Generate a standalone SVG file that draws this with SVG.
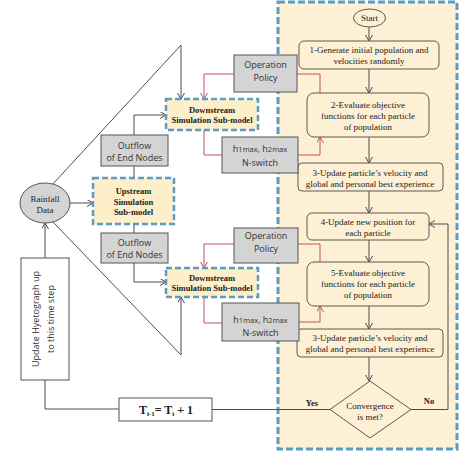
<svg xmlns="http://www.w3.org/2000/svg" width="474" height="454" viewBox="0 0 474 454">
<defs>
<marker id="ar" markerWidth="8" markerHeight="8" refX="6" refY="3.5" orient="auto" markerUnits="userSpaceOnUse">
<path d="M0,0 L6,3.5 L0,7" fill="none" stroke="#4d4d4d" stroke-width="1"/>
</marker>
<marker id="arr" markerWidth="8" markerHeight="8" refX="6" refY="3.5" orient="auto" markerUnits="userSpaceOnUse">
<path d="M0,0 L6,3.5 L0,7" fill="none" stroke="#c0505a" stroke-width="1"/>
</marker>
<style>
.fl{fill:#fdf0d4;stroke:#5a5a5a;stroke-width:1}
.gb{fill:#d4d4d4;stroke:#555;stroke-width:1}
.wb{fill:#fff;stroke:#555;stroke-width:1}
.sm{fill:#fcefc9;stroke:#5a9cc4;stroke-width:2.5;stroke-dasharray:6,3}
.ln{fill:none;stroke:#4d4d4d;stroke-width:1}
.rd{fill:none;stroke:#c0505a;stroke-width:1}
.t{font-family:"Liberation Serif","Times New Roman",serif;font-size:9px;fill:#222;text-anchor:middle}
.tb{font-family:"Liberation Serif","Times New Roman",serif;font-size:8.5px;font-weight:bold;fill:#222;text-anchor:middle}
.s{font-family:"Open Sans","Liberation Sans",sans-serif;font-size:9px;fill:#333;text-anchor:middle}
</style>
</defs>
<rect x="0" y="0" width="474" height="454" fill="#fff"/>
<rect id="frame" x="278" y="2" width="179" height="447" fill="#fdf0d4" stroke="#5a9cc4" stroke-width="3" stroke-dasharray="7,3"/>

<g id="connectors">
<path class="ln" d="M52,185 L181,45 L181,99" marker-end="url(#ar)"/>
<path class="ln" d="M52,221 L181,355 L181,297" marker-end="url(#ar)"/>
<path class="ln" d="M70,203 L93,203" marker-end="url(#ar)"/>
<path class="ln" d="M134,178 L134,166"/>
<path class="ln" d="M134,135 L134,115 L166,115" marker-end="url(#ar)"/>
<path class="ln" d="M134,224 L134,233"/>
<path class="ln" d="M134,263 L134,282 L166,282" marker-end="url(#ar)"/>
<path class="ln" d="M45,258 L45,223" marker-end="url(#ar)"/>
<path class="ln" d="M119,409 L45,409 L45,380"/>
<path class="ln" d="M330,409.5 L212,409.5"/>
<path class="ln" d="M411,409.5 L448,409.5 L448,224 L429,224" marker-end="url(#ar)"/>
<path class="ln" d="M369,27 L369,41" marker-end="url(#ar)"/>
<path class="ln" d="M369,69 L369,93" marker-end="url(#ar)"/>
<path class="ln" d="M369,137 L369,163" marker-end="url(#ar)"/>
<path class="ln" d="M369,191 L369,213" marker-end="url(#ar)"/>
<path class="ln" d="M369,240 L369,262" marker-end="url(#ar)"/>
<path class="ln" d="M369,306 L369,329" marker-end="url(#ar)"/>
<path class="ln" d="M369,357 L369,381" marker-end="url(#ar)"/>
<path class="rd" d="M234,74 L204,74 L204,99" marker-end="url(#arr)"/>
<path class="rd" d="M297,74 L320,74 L320,93"/>
<path class="rd" d="M222,155 L204,155 L204,130"/>
<path class="rd" d="M298,155 L320,155 L320,137" marker-end="url(#arr)"/>
<path class="rd" d="M234,244 L204,244 L204,268" marker-end="url(#arr)"/>
<path class="rd" d="M298,244 L320,244 L320,262"/>
<path class="rd" d="M222,323 L204,323 L204,297"/>
<path class="rd" d="M299,322 L320,322 L320,306" marker-end="url(#arr)"/>
</g>

<g id="start"><ellipse class="fl" cx="369.5" cy="18" rx="16" ry="9"/><text class="t" x="369.5" y="21">Start</text></g>
<g id="step1"><rect class="fl" x="299" y="41" width="140" height="28" rx="5"/><text class="t" x="369" y="53">1-Generate initial population and</text><text class="t" x="369" y="64">velocities randomly</text></g>
<g id="step2"><rect class="fl" x="307" y="93" width="122" height="44" rx="7"/><text class="t" x="368" y="108">2-Evaluate objective</text><text class="t" x="368" y="119">functions for each particle</text><text class="t" x="368" y="130">of population</text></g>
<g id="step3"><rect class="fl" x="298" y="163" width="145" height="28" rx="4"/><text class="t" x="370" y="176">3-Update particle’s velocity and</text><text class="t" x="370" y="187">global and personal best experience</text></g>
<g id="step4"><rect class="fl" x="307" y="213" width="122" height="27" rx="5"/><text class="t" x="368" y="225">4-Update new position for</text><text class="t" x="368" y="236">each particle</text></g>
<g id="step5"><rect class="fl" x="307" y="262" width="122" height="44" rx="7"/><text class="t" x="368" y="276">5-Evaluate objective</text><text class="t" x="368" y="287">functions for each particle</text><text class="t" x="368" y="298">of population</text></g>
<g id="step6"><rect class="fl" x="297" y="329" width="146" height="28" rx="4"/><text class="t" x="370" y="341">3-Update particle’s velocity and</text><text class="t" x="370" y="352">global and personal best experience</text></g>
<g id="conv"><polygon class="fl" points="370,381 411,409.5 370,438 330,409.5"/><text class="t" x="370" y="409">Convergence</text><text class="t" x="370" y="420">is met?</text></g>
<text class="tb" x="312" y="406" font-size="9">Yes</text>
<text class="tb" x="429" y="404" font-size="9">No</text>

<g id="oppol1"><rect class="gb" x="234" y="55" width="63" height="37"/><text class="s" x="265.5" y="68">Operation</text><text class="s" x="265.5" y="81">Policy</text></g>
<g id="hmax1"><rect class="gb" x="222" y="137" width="76" height="36"/><text class="s" x="260" y="152">h<tspan font-size="7.5">1max</tspan>, h<tspan font-size="7.5">2max</tspan></text><text class="s" x="260" y="166">N-switch</text></g>
<g id="oppol2"><rect class="gb" x="234" y="228" width="64" height="35"/><text class="s" x="266" y="239">Operation</text><text class="s" x="266" y="252">Policy</text></g>
<g id="hmax2"><rect class="gb" x="222" y="303" width="77" height="38"/><text class="s" x="260.5" y="323">h<tspan font-size="7.5">1max</tspan>, h<tspan font-size="7.5">2max</tspan></text><text class="s" x="260.5" y="336">N-switch</text></g>
<g id="outflow1"><rect class="gb" x="101" y="135" width="67" height="31"/><text class="s" x="134.5" y="149">Outflow</text><text class="s" x="134.5" y="161">of End Nodes</text></g>
<g id="outflow2"><rect class="gb" x="101" y="233" width="67" height="30"/><text class="s" x="134.5" y="246">Outflow</text><text class="s" x="134.5" y="258">of End Nodes</text></g>

<g id="down1"><rect class="sm" x="166" y="99" width="92" height="31"/><text class="tb" x="212" y="113">Downstream</text><text class="tb" x="212" y="123">Simulation Sub-model</text></g>
<g id="up"><rect class="sm" x="93" y="178" width="81" height="46"/><text class="tb" x="133.5" y="194">Upstream</text><text class="tb" x="133.5" y="205">Simulation</text><text class="tb" x="133.5" y="215">Sub-model</text></g>
<g id="down2"><rect class="sm" x="166" y="268" width="92" height="29"/><text class="tb" x="212" y="281">Downstream</text><text class="tb" x="212" y="291">Simulation Sub-model</text></g>

<g id="rain"><ellipse cx="45" cy="203" rx="25" ry="20" fill="#d4d4d4" stroke="#555"/><text class="t" x="45" y="202" font-size="8.5">Rainfall</text><text class="t" x="45" y="213" font-size="8.5">Data</text></g>
<g id="hyeto"><rect class="wb" x="21" y="258" width="48" height="122"/><text class="s" font-size="10" transform="translate(38.5,319) rotate(-90)">Update Hyetograph up</text><text class="s" font-size="10" transform="translate(53.5,319) rotate(-90)">to this time step</text></g>
<g id="ti"><rect class="wb" x="119" y="398" width="93" height="23"/><text x="166" y="414" font-family="'Liberation Serif','Times New Roman',serif" font-size="12" font-weight="bold" fill="#222" text-anchor="middle">T<tspan font-size="7" dy="2">i-1</tspan><tspan dy="-2">= T</tspan><tspan font-size="7" dy="2">i</tspan><tspan dy="-2"> + 1</tspan></text></g>
</svg>
